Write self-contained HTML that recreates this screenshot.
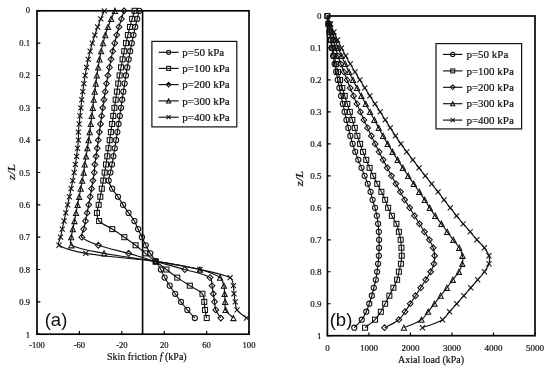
<!DOCTYPE html>
<html><head><meta charset="utf-8"><title>Skin friction and axial load</title>
<style>html,body{margin:0;padding:0;background:#fff}svg{display:block}</style></head>
<body>
<svg width="550" height="371" viewBox="0 0 550 371">
<rect width="550" height="371" fill="#fff"/>
<g font-family="'Liberation Serif', 'Times New Roman', serif" fill="#111" stroke="#111" stroke-width="0.2">
<rect x="37.00" y="10.80" width="212.00" height="323.40" fill="none" stroke="#050505" stroke-width="1.7"/>
<path d="M37.00 10.80h3.3M37.00 43.14h3.3M37.00 75.48h3.3M37.00 107.82h3.3M37.00 140.16h3.3M37.00 172.50h3.3M37.00 204.84h3.3M37.00 237.18h3.3M37.00 269.52h3.3M37.00 301.86h3.3M37.00 334.20h3.3M37.00 334.20v-3.3M79.40 334.20v-3.3M121.80 334.20v-3.3M164.20 334.20v-3.3M206.60 334.20v-3.3M249.00 334.20v-3.3" stroke="#050505" stroke-width="1.2" fill="none"/>
<path d="M142.60 10.80V334.20" stroke="#050505" stroke-width="1.6"/>
<path d="M139.26 10.80C138.92 12.15 137.86 16.18 137.19 18.88C136.53 21.57 135.88 24.27 135.26 26.97C134.64 29.66 134.04 32.36 133.46 35.05C132.88 37.75 132.32 40.44 131.77 43.14C131.23 45.83 130.70 48.53 130.19 51.22C129.68 53.92 129.18 56.61 128.70 59.31C128.21 62.00 127.74 64.70 127.28 67.39C126.82 70.09 126.37 72.78 125.93 75.48C125.49 78.17 125.06 80.87 124.64 83.56C124.22 86.26 123.80 88.95 123.39 91.65C122.98 94.34 122.57 97.04 122.17 99.73C121.76 102.43 121.36 105.12 120.96 107.82C120.56 110.51 120.16 113.21 119.76 115.90C119.36 118.60 118.96 121.30 118.55 123.99C118.14 126.69 117.74 129.38 117.32 132.07C116.91 134.77 116.49 137.47 116.06 140.16C115.63 142.86 115.20 145.55 114.76 148.25C114.31 150.94 113.86 153.64 113.40 156.33C112.93 159.03 112.46 161.72 111.97 164.41C111.47 167.11 111.00 169.81 110.45 172.50C109.90 175.20 108.38 177.97 108.66 180.59C108.95 183.36 110.70 186.14 112.15 188.67C113.80 191.53 116.13 194.00 117.98 196.75C119.76 199.39 121.33 202.18 123.07 204.84C124.86 207.57 126.71 210.25 128.58 212.93C130.49 215.64 132.73 218.16 134.41 221.01C135.91 223.55 136.87 226.41 138.12 229.09C139.38 231.80 140.67 234.48 141.94 237.18C143.21 239.87 144.39 242.62 145.76 245.26C147.18 248.01 148.69 250.72 150.31 253.35C152.01 256.11 153.94 258.72 155.72 261.44C157.48 264.11 159.37 266.72 160.91 269.52C162.34 272.11 163.21 275.01 164.62 277.60C166.14 280.40 167.97 283.03 169.71 285.69C171.50 288.42 173.35 291.10 175.22 293.77C177.13 296.49 179.07 299.20 181.05 301.86C183.09 304.59 185.10 307.35 187.31 309.94C189.69 312.74 193.58 316.68 194.83 318.03" fill="none" stroke="#111" stroke-width="1.15"/>
<g fill="none" stroke="#111" stroke-width="1.05"><circle cx="139.26" cy="10.80" r="2.60"/><circle cx="137.19" cy="18.88" r="2.60"/><circle cx="135.26" cy="26.97" r="2.60"/><circle cx="133.46" cy="35.05" r="2.60"/><circle cx="131.77" cy="43.14" r="2.60"/><circle cx="130.19" cy="51.22" r="2.60"/><circle cx="128.70" cy="59.31" r="2.60"/><circle cx="127.28" cy="67.39" r="2.60"/><circle cx="125.93" cy="75.48" r="2.60"/><circle cx="124.64" cy="83.56" r="2.60"/><circle cx="123.39" cy="91.65" r="2.60"/><circle cx="122.17" cy="99.73" r="2.60"/><circle cx="120.96" cy="107.82" r="2.60"/><circle cx="119.76" cy="115.90" r="2.60"/><circle cx="118.55" cy="123.99" r="2.60"/><circle cx="117.32" cy="132.07" r="2.60"/><circle cx="116.06" cy="140.16" r="2.60"/><circle cx="114.76" cy="148.25" r="2.60"/><circle cx="113.40" cy="156.33" r="2.60"/><circle cx="111.97" cy="164.41" r="2.60"/><circle cx="110.45" cy="172.50" r="2.60"/><circle cx="108.66" cy="180.59" r="2.60"/><circle cx="112.15" cy="188.67" r="2.60"/><circle cx="117.98" cy="196.75" r="2.60"/><circle cx="123.07" cy="204.84" r="2.60"/><circle cx="128.58" cy="212.93" r="2.60"/><circle cx="134.41" cy="221.01" r="2.60"/><circle cx="138.12" cy="229.09" r="2.60"/><circle cx="141.94" cy="237.18" r="2.60"/><circle cx="145.76" cy="245.26" r="2.60"/><circle cx="150.31" cy="253.35" r="2.60"/><circle cx="155.72" cy="261.44" r="2.60"/><circle cx="160.91" cy="269.52" r="2.60"/><circle cx="164.62" cy="277.60" r="2.60"/><circle cx="169.71" cy="285.69" r="2.60"/><circle cx="175.22" cy="293.77" r="2.60"/><circle cx="181.05" cy="301.86" r="2.60"/><circle cx="187.31" cy="309.94" r="2.60"/><circle cx="194.83" cy="318.03" r="2.60"/></g>
<path d="M134.54 10.80C134.14 12.15 132.92 16.18 132.15 18.88C131.39 21.57 130.65 24.27 129.94 26.97C129.23 29.66 128.55 32.35 127.89 35.05C127.23 37.74 126.60 40.44 125.99 43.14C125.38 45.83 124.79 48.53 124.23 51.22C123.66 53.92 123.11 56.61 122.58 59.31C122.05 62.00 121.54 64.70 121.04 67.39C120.54 70.09 120.07 72.78 119.60 75.48C119.13 78.17 118.67 80.87 118.23 83.56C117.78 86.26 117.35 88.95 116.92 91.65C116.50 94.34 116.08 97.04 115.67 99.73C115.26 102.43 114.85 105.12 114.45 107.82C114.05 110.51 113.65 113.21 113.26 115.90C112.86 118.60 112.47 121.29 112.07 123.99C111.68 126.68 111.29 129.38 110.89 132.07C110.50 134.77 110.10 137.47 109.70 140.16C109.30 142.86 108.90 145.55 108.49 148.25C108.08 150.94 107.67 153.64 107.26 156.33C106.84 159.03 106.41 161.72 105.98 164.41C105.55 167.11 105.11 169.81 104.66 172.50C104.21 175.20 103.75 177.89 103.28 180.59C102.81 183.28 102.32 185.98 101.83 188.67C101.33 191.37 100.82 194.06 100.30 196.75C99.78 199.45 99.24 202.15 98.69 204.84C98.13 207.54 96.90 210.25 96.97 212.93C97.04 215.64 97.32 219.12 99.12 221.01C102.42 224.51 107.93 226.32 112.26 229.09C116.34 231.71 120.36 234.42 124.34 237.18C128.14 239.81 131.93 242.44 135.58 245.26C138.89 247.83 141.96 250.72 145.23 253.35C148.67 256.11 152.21 258.76 155.72 261.44C159.28 264.15 162.85 266.83 166.43 269.52C170.02 272.22 173.54 275.05 177.24 277.60C181.35 280.44 185.65 283.00 189.85 285.69C194.06 288.38 199.37 290.30 202.47 293.77C204.18 295.69 203.84 299.14 204.27 301.86C204.69 304.53 204.61 307.27 205.01 309.94C205.42 312.66 206.42 316.68 206.71 318.03" fill="none" stroke="#111" stroke-width="1.15"/>
<g fill="none" stroke="#111" stroke-width="1.05"><rect x="132.04" y="8.30" width="5.00" height="5.00"/><rect x="129.65" y="16.38" width="5.00" height="5.00"/><rect x="127.44" y="24.47" width="5.00" height="5.00"/><rect x="125.39" y="32.55" width="5.00" height="5.00"/><rect x="123.49" y="40.64" width="5.00" height="5.00"/><rect x="121.73" y="48.72" width="5.00" height="5.00"/><rect x="120.08" y="56.81" width="5.00" height="5.00"/><rect x="118.54" y="64.89" width="5.00" height="5.00"/><rect x="117.10" y="72.98" width="5.00" height="5.00"/><rect x="115.73" y="81.06" width="5.00" height="5.00"/><rect x="114.42" y="89.15" width="5.00" height="5.00"/><rect x="113.17" y="97.23" width="5.00" height="5.00"/><rect x="111.95" y="105.32" width="5.00" height="5.00"/><rect x="110.76" y="113.40" width="5.00" height="5.00"/><rect x="109.57" y="121.49" width="5.00" height="5.00"/><rect x="108.39" y="129.57" width="5.00" height="5.00"/><rect x="107.20" y="137.66" width="5.00" height="5.00"/><rect x="105.99" y="145.75" width="5.00" height="5.00"/><rect x="104.76" y="153.83" width="5.00" height="5.00"/><rect x="103.48" y="161.91" width="5.00" height="5.00"/><rect x="102.16" y="170.00" width="5.00" height="5.00"/><rect x="100.78" y="178.09" width="5.00" height="5.00"/><rect x="99.33" y="186.17" width="5.00" height="5.00"/><rect x="97.80" y="194.25" width="5.00" height="5.00"/><rect x="96.19" y="202.34" width="5.00" height="5.00"/><rect x="94.47" y="210.43" width="5.00" height="5.00"/><rect x="96.62" y="218.51" width="5.00" height="5.00"/><rect x="109.76" y="226.59" width="5.00" height="5.00"/><rect x="121.84" y="234.68" width="5.00" height="5.00"/><rect x="133.08" y="242.76" width="5.00" height="5.00"/><rect x="142.73" y="250.85" width="5.00" height="5.00"/><rect x="153.22" y="258.94" width="5.00" height="5.00"/><rect x="163.93" y="267.02" width="5.00" height="5.00"/><rect x="174.74" y="275.10" width="5.00" height="5.00"/><rect x="187.35" y="283.19" width="5.00" height="5.00"/><rect x="199.97" y="291.27" width="5.00" height="5.00"/><rect x="201.77" y="299.36" width="5.00" height="5.00"/><rect x="202.51" y="307.44" width="5.00" height="5.00"/><rect x="204.21" y="315.53" width="5.00" height="5.00"/></g>
<path d="M124.04 10.80C123.60 12.15 122.25 16.18 121.40 18.88C120.56 21.57 119.76 24.27 118.98 26.97C118.20 29.66 117.46 32.35 116.74 35.05C116.03 37.74 115.35 40.44 114.69 43.14C114.03 45.83 113.40 48.52 112.79 51.22C112.18 53.91 111.60 56.61 111.04 59.31C110.48 62.00 109.94 64.70 109.42 67.39C108.90 70.09 108.41 72.78 107.92 75.48C107.44 78.17 106.98 80.87 106.52 83.56C106.07 86.26 105.64 88.95 105.21 91.65C104.79 94.34 104.38 97.04 103.97 99.73C103.57 102.43 103.18 105.12 102.79 107.82C102.40 110.51 102.02 113.21 101.65 115.90C101.27 118.60 100.90 121.29 100.53 123.99C100.16 126.68 99.80 129.38 99.43 132.07C99.06 134.77 98.70 137.47 98.32 140.16C97.95 142.86 97.58 145.55 97.20 148.25C96.82 150.94 96.44 153.64 96.05 156.33C95.66 159.03 95.16 161.71 94.86 164.41C94.57 167.10 94.58 169.82 94.27 172.50C93.96 175.21 93.43 177.89 92.99 180.59C92.55 183.28 92.10 185.98 91.64 188.67C91.18 191.37 90.71 194.06 90.23 196.75C89.75 199.45 89.25 202.15 88.74 204.84C88.22 207.54 87.70 210.23 87.16 212.93C86.61 215.62 86.06 218.32 85.48 221.01C84.90 223.71 84.31 226.40 83.70 229.09C83.09 231.79 80.29 235.51 81.81 237.18C85.18 240.90 92.59 243.27 98.37 245.26C108.18 248.66 118.55 250.52 128.58 253.35C137.67 255.91 146.65 258.82 155.72 261.44C165.38 264.21 175.13 266.65 184.76 269.52C193.23 272.04 203.08 273.50 209.99 277.60C212.16 278.89 211.45 282.97 212.01 285.69C212.55 288.36 212.85 291.08 213.28 293.77C213.70 296.47 214.13 299.17 214.55 301.86C214.97 304.56 214.86 307.45 215.82 309.94C216.94 312.84 219.97 316.68 220.80 318.03" fill="none" stroke="#111" stroke-width="1.15"/>
<g fill="none" stroke="#111" stroke-width="1.05"><path d="M124.04 7.90L126.94 10.80L124.04 13.70L121.14 10.80Z"/><path d="M121.40 15.98L124.30 18.88L121.40 21.78L118.50 18.88Z"/><path d="M118.98 24.07L121.88 26.97L118.98 29.87L116.08 26.97Z"/><path d="M116.74 32.16L119.64 35.05L116.74 37.95L113.84 35.05Z"/><path d="M114.69 40.24L117.59 43.14L114.69 46.04L111.79 43.14Z"/><path d="M112.79 48.32L115.69 51.22L112.79 54.12L109.89 51.22Z"/><path d="M111.04 56.41L113.94 59.31L111.04 62.21L108.14 59.31Z"/><path d="M109.42 64.49L112.32 67.39L109.42 70.30L106.52 67.39Z"/><path d="M107.92 72.58L110.82 75.48L107.92 78.38L105.02 75.48Z"/><path d="M106.52 80.66L109.42 83.56L106.52 86.47L103.62 83.56Z"/><path d="M105.21 88.75L108.11 91.65L105.21 94.55L102.31 91.65Z"/><path d="M103.97 96.83L106.87 99.73L103.97 102.64L101.07 99.73Z"/><path d="M102.79 104.92L105.69 107.82L102.79 110.72L99.89 107.82Z"/><path d="M101.65 113.00L104.55 115.90L101.65 118.80L98.75 115.90Z"/><path d="M100.53 121.09L103.43 123.99L100.53 126.89L97.63 123.99Z"/><path d="M99.43 129.17L102.33 132.07L99.43 134.97L96.53 132.07Z"/><path d="M98.32 137.26L101.22 140.16L98.32 143.06L95.42 140.16Z"/><path d="M97.20 145.34L100.10 148.25L97.20 151.15L94.30 148.25Z"/><path d="M96.05 153.43L98.95 156.33L96.05 159.23L93.15 156.33Z"/><path d="M94.86 161.51L97.76 164.41L94.86 167.31L91.96 164.41Z"/><path d="M94.27 169.60L97.17 172.50L94.27 175.40L91.37 172.50Z"/><path d="M92.99 177.69L95.89 180.59L92.99 183.49L90.09 180.59Z"/><path d="M91.64 185.77L94.54 188.67L91.64 191.57L88.74 188.67Z"/><path d="M90.23 193.85L93.13 196.75L90.23 199.66L87.33 196.75Z"/><path d="M88.74 201.94L91.64 204.84L88.74 207.74L85.84 204.84Z"/><path d="M87.16 210.03L90.06 212.93L87.16 215.83L84.26 212.93Z"/><path d="M85.48 218.11L88.38 221.01L85.48 223.91L82.58 221.01Z"/><path d="M83.70 226.19L86.60 229.09L83.70 232.00L80.80 229.09Z"/><path d="M81.81 234.28L84.71 237.18L81.81 240.08L78.91 237.18Z"/><path d="M98.37 242.36L101.27 245.26L98.37 248.16L95.47 245.26Z"/><path d="M128.58 250.45L131.48 253.35L128.58 256.25L125.68 253.35Z"/><path d="M155.72 258.54L158.62 261.44L155.72 264.33L152.82 261.44Z"/><path d="M184.76 266.62L187.66 269.52L184.76 272.42L181.86 269.52Z"/><path d="M209.99 274.70L212.89 277.60L209.99 280.50L207.09 277.60Z"/><path d="M212.01 282.79L214.91 285.69L212.01 288.59L209.11 285.69Z"/><path d="M213.28 290.88L216.18 293.77L213.28 296.67L210.38 293.77Z"/><path d="M214.55 298.96L217.45 301.86L214.55 304.76L211.65 301.86Z"/><path d="M215.82 307.05L218.72 309.94L215.82 312.84L212.92 309.94Z"/><path d="M220.80 315.13L223.70 318.03L220.80 320.93L217.90 318.03Z"/></g>
<path d="M114.95 10.80C114.32 12.15 112.37 16.16 111.20 18.88C110.06 21.55 109.01 24.25 108.02 26.97C107.04 29.64 106.15 32.34 105.32 35.05C104.50 37.73 103.75 40.43 103.05 43.14C102.36 45.82 101.74 48.52 101.15 51.22C100.57 53.91 100.04 56.61 99.54 59.31C99.05 62.00 98.60 64.70 98.16 67.39C97.73 70.09 97.33 72.78 96.94 75.48C96.55 78.17 96.18 80.87 95.82 83.56C95.46 86.26 95.11 88.95 94.77 91.65C94.42 94.34 94.09 97.04 93.76 99.73C93.42 102.43 93.10 105.13 92.77 107.82C92.44 110.52 92.12 113.21 91.78 115.90C91.45 118.60 91.12 121.30 90.78 123.99C90.43 126.69 90.08 129.38 89.72 132.07C89.36 134.77 88.99 137.47 88.60 140.16C88.21 142.86 87.81 145.55 87.39 148.25C86.97 150.94 86.54 153.64 86.10 156.33C85.66 159.03 85.13 161.71 84.74 164.41C84.35 167.10 84.15 169.82 83.74 172.50C83.32 175.21 82.76 177.89 82.26 180.59C81.76 183.28 81.26 185.98 80.74 188.67C80.23 191.37 79.71 194.06 79.19 196.75C78.67 199.45 78.14 202.15 77.61 204.84C77.09 207.54 76.55 210.23 76.02 212.93C75.49 215.62 74.96 218.31 74.43 221.01C73.90 223.70 73.37 226.40 72.84 229.09C72.31 231.79 71.52 234.46 71.26 237.18C71.02 239.85 69.23 244.22 71.34 245.26C80.17 249.61 93.06 251.24 104.10 253.35C121.19 256.63 138.55 258.54 155.72 261.44C170.49 263.93 185.46 265.89 199.92 269.52C206.91 271.28 214.41 273.79 220.06 277.60C222.39 279.18 223.08 282.87 223.88 285.69C224.60 288.26 224.41 291.08 224.62 293.77C224.83 296.47 224.99 299.16 225.15 301.86C225.31 304.55 224.42 307.69 225.57 309.94C227.18 313.08 232.11 316.68 233.42 318.03" fill="none" stroke="#111" stroke-width="1.15"/>
<g fill="none" stroke="#111" stroke-width="1.05"><path d="M114.95 8.20L117.55 13.40L112.35 13.40Z"/><path d="M111.20 16.28L113.80 21.48L108.60 21.48Z"/><path d="M108.02 24.37L110.62 29.57L105.42 29.57Z"/><path d="M105.32 32.45L107.92 37.66L102.72 37.66Z"/><path d="M103.05 40.54L105.65 45.74L100.45 45.74Z"/><path d="M101.15 48.62L103.75 53.82L98.55 53.82Z"/><path d="M99.54 56.71L102.14 61.91L96.94 61.91Z"/><path d="M98.16 64.80L100.76 69.99L95.56 69.99Z"/><path d="M96.94 72.88L99.54 78.08L94.34 78.08Z"/><path d="M95.82 80.97L98.42 86.16L93.22 86.16Z"/><path d="M94.77 89.05L97.37 94.25L92.17 94.25Z"/><path d="M93.76 97.14L96.36 102.33L91.16 102.33Z"/><path d="M92.77 105.22L95.37 110.42L90.17 110.42Z"/><path d="M91.78 113.30L94.38 118.50L89.18 118.50Z"/><path d="M90.78 121.39L93.38 126.59L88.18 126.59Z"/><path d="M89.72 129.47L92.32 134.67L87.12 134.67Z"/><path d="M88.60 137.56L91.20 142.76L86.00 142.76Z"/><path d="M87.39 145.65L89.99 150.84L84.79 150.84Z"/><path d="M86.10 153.73L88.70 158.93L83.50 158.93Z"/><path d="M84.74 161.81L87.34 167.01L82.14 167.01Z"/><path d="M83.74 169.90L86.34 175.10L81.14 175.10Z"/><path d="M82.26 177.99L84.86 183.19L79.66 183.19Z"/><path d="M80.74 186.07L83.34 191.27L78.14 191.27Z"/><path d="M79.19 194.16L81.79 199.35L76.59 199.35Z"/><path d="M77.61 202.24L80.21 207.44L75.01 207.44Z"/><path d="M76.02 210.33L78.62 215.53L73.42 215.53Z"/><path d="M74.43 218.41L77.03 223.61L71.83 223.61Z"/><path d="M72.84 226.50L75.44 231.69L70.24 231.69Z"/><path d="M71.26 234.58L73.86 239.78L68.66 239.78Z"/><path d="M71.34 242.66L73.94 247.86L68.74 247.86Z"/><path d="M104.10 250.75L106.70 255.95L101.50 255.95Z"/><path d="M155.72 258.83L158.32 264.04L153.12 264.04Z"/><path d="M199.92 266.92L202.52 272.12L197.32 272.12Z"/><path d="M220.06 275.00L222.66 280.20L217.46 280.20Z"/><path d="M223.88 283.09L226.48 288.29L221.28 288.29Z"/><path d="M224.62 291.17L227.22 296.38L222.02 296.38Z"/><path d="M225.15 299.26L227.75 304.46L222.55 304.46Z"/><path d="M225.57 307.34L228.17 312.55L222.97 312.55Z"/><path d="M233.42 315.43L236.02 320.63L230.82 320.63Z"/></g>
<path d="M104.31 10.80C103.72 12.15 101.92 16.17 100.80 18.88C99.69 21.56 98.63 24.26 97.63 26.97C96.64 29.65 95.69 32.34 94.80 35.05C93.93 37.73 93.10 40.43 92.32 43.14C91.55 45.82 90.83 48.52 90.15 51.22C89.47 53.91 88.84 56.61 88.25 59.31C87.65 62.00 87.10 64.69 86.58 67.39C86.07 70.08 85.59 72.78 85.13 75.48C84.68 78.17 84.26 80.87 83.86 83.56C83.47 86.26 83.10 88.95 82.74 91.65C82.39 94.34 82.06 97.04 81.74 99.73C81.43 102.43 81.13 105.12 80.83 107.82C80.54 110.51 80.26 113.21 79.98 115.90C79.71 118.60 79.44 121.30 79.16 123.99C78.89 126.69 78.46 129.37 78.34 132.07C78.22 134.76 78.58 137.47 78.45 140.16C78.31 142.86 77.85 145.55 77.53 148.25C77.21 150.94 76.88 153.64 76.53 156.33C76.18 159.03 75.81 161.72 75.41 164.41C75.01 167.11 74.58 169.81 74.13 172.50C73.68 175.20 73.19 177.89 72.69 180.59C72.18 183.28 71.64 185.98 71.10 188.67C70.55 191.37 69.98 194.06 69.40 196.75C68.82 199.45 68.22 202.15 67.63 204.84C67.03 207.54 66.42 210.23 65.82 212.93C65.22 215.62 64.61 218.31 64.02 221.01C63.42 223.70 62.83 226.40 62.25 229.09C61.67 231.79 61.10 234.48 60.55 237.18C60.01 239.87 57.06 244.04 58.97 245.26C65.46 249.43 76.59 251.82 85.76 253.35C108.84 257.21 132.49 258.14 155.72 261.44C170.54 263.53 185.30 266.34 199.92 269.52C210.10 271.73 221.40 273.39 230.13 277.60C232.57 278.78 232.76 282.89 233.42 285.69C234.03 288.28 233.65 291.09 233.95 293.77C234.25 296.48 234.71 299.18 235.22 301.86C235.74 304.57 235.52 307.80 237.02 309.94C239.30 313.19 244.97 316.68 246.56 318.03" fill="none" stroke="#111" stroke-width="1.15"/>
<g fill="none" stroke="#111" stroke-width="1.05"><path d="M101.76 8.25L106.86 13.35M101.76 13.35L106.86 8.25"/><path d="M98.25 16.33L103.35 21.43M98.25 21.43L103.35 16.33"/><path d="M95.08 24.42L100.18 29.52M95.08 29.52L100.18 24.42"/><path d="M92.25 32.51L97.35 37.60M92.25 37.60L97.35 32.51"/><path d="M89.77 40.59L94.87 45.69M89.77 45.69L94.87 40.59"/><path d="M87.60 48.67L92.70 53.77M87.60 53.77L92.70 48.67"/><path d="M85.70 56.76L90.80 61.86M85.70 61.86L90.80 56.76"/><path d="M84.03 64.84L89.13 69.94M84.03 69.94L89.13 64.84"/><path d="M82.58 72.93L87.68 78.03M82.58 78.03L87.68 72.93"/><path d="M81.31 81.02L86.41 86.11M81.31 86.11L86.41 81.02"/><path d="M80.19 89.10L85.29 94.20M80.19 94.20L85.29 89.10"/><path d="M79.19 97.19L84.29 102.28M79.19 102.28L84.29 97.19"/><path d="M78.28 105.27L83.38 110.37M78.28 110.37L83.38 105.27"/><path d="M77.43 113.35L82.53 118.45M77.43 118.45L82.53 113.35"/><path d="M76.61 121.44L81.71 126.54M76.61 126.54L81.71 121.44"/><path d="M75.79 129.52L80.89 134.62M75.79 134.62L80.89 129.52"/><path d="M75.90 137.61L81.00 142.71M75.90 142.71L81.00 137.61"/><path d="M74.98 145.69L80.08 150.80M74.98 150.80L80.08 145.69"/><path d="M73.98 153.78L79.08 158.88M73.98 158.88L79.08 153.78"/><path d="M72.86 161.86L77.96 166.97M72.86 166.97L77.96 161.86"/><path d="M71.58 169.95L76.68 175.05M71.58 175.05L76.68 169.95"/><path d="M70.14 178.03L75.24 183.14M70.14 183.14L75.24 178.03"/><path d="M68.55 186.12L73.65 191.22M68.55 191.22L73.65 186.12"/><path d="M66.85 194.20L71.95 199.31M66.85 199.31L71.95 194.20"/><path d="M65.08 202.29L70.18 207.39M65.08 207.39L70.18 202.29"/><path d="M63.27 210.38L68.37 215.48M63.27 215.48L68.37 210.38"/><path d="M61.47 218.46L66.57 223.56M61.47 223.56L66.57 218.46"/><path d="M59.70 226.54L64.80 231.65M59.70 231.65L64.80 226.54"/><path d="M58.00 234.63L63.10 239.73M58.00 239.73L63.10 234.63"/><path d="M56.42 242.71L61.52 247.81M56.42 247.81L61.52 242.71"/><path d="M83.21 250.80L88.31 255.90M83.21 255.90L88.31 250.80"/><path d="M153.17 258.88L158.27 263.99M153.17 263.99L158.27 258.88"/><path d="M197.37 266.97L202.47 272.07M197.37 272.07L202.47 266.97"/><path d="M227.58 275.05L232.68 280.15M227.58 280.15L232.68 275.05"/><path d="M230.87 283.14L235.97 288.24M230.87 288.24L235.97 283.14"/><path d="M231.40 291.22L236.50 296.32M231.40 296.32L236.50 291.22"/><path d="M232.67 299.31L237.77 304.41M232.67 304.41L237.77 299.31"/><path d="M234.47 307.39L239.57 312.50M234.47 312.50L239.57 307.39"/><path d="M244.01 315.48L249.11 320.58M244.01 320.58L249.11 315.48"/></g>
<g font-size="8.6" text-anchor="end">
<text x="30.0" y="13.2">0</text>
<text x="30.0" y="45.7">0.1</text>
<text x="30.0" y="78.1">0.2</text>
<text x="30.0" y="110.6">0.3</text>
<text x="30.0" y="143.0">0.4</text>
<text x="30.0" y="175.5">0.5</text>
<text x="30.0" y="207.9">0.6</text>
<text x="30.0" y="240.4">0.7</text>
<text x="30.0" y="272.8">0.8</text>
<text x="30.0" y="305.3">0.9</text>
<text x="30.0" y="337.7">1</text>
</g>
<g font-size="8.6" text-anchor="middle">
<text x="37.0" y="348.2">-100</text>
<text x="79.4" y="348.2">-60</text>
<text x="121.8" y="348.2">-20</text>
<text x="164.2" y="348.2">20</text>
<text x="206.6" y="348.2">60</text>
<text x="249.0" y="348.2">100</text>
</g>
<rect x="327.40" y="16.00" width="207.60" height="319.70" fill="none" stroke="#050505" stroke-width="1.7"/>
<path d="M327.40 16.00h3.3M327.40 47.97h3.3M327.40 79.94h3.3M327.40 111.91h3.3M327.40 143.88h3.3M327.40 175.85h3.3M327.40 207.82h3.3M327.40 239.79h3.3M327.40 271.76h3.3M327.40 303.73h3.3M327.40 335.70h3.3M327.40 335.70v-3.3M368.92 335.70v-3.3M410.44 335.70v-3.3M451.96 335.70v-3.3M493.48 335.70v-3.3M535.00 335.70v-3.3" stroke="#050505" stroke-width="1.2" fill="none"/>
<path d="M327.40 16.00C327.56 17.33 328.01 21.33 328.34 23.99C328.67 26.66 329.02 29.32 329.39 31.98C329.75 34.65 330.14 37.32 330.53 39.98C330.93 42.64 331.33 45.31 331.76 47.97C332.19 50.64 332.64 53.30 333.11 55.96C333.59 58.63 334.09 61.29 334.60 63.95C335.11 66.62 335.65 69.28 336.18 71.95C336.71 74.61 337.24 77.28 337.78 79.94C338.32 82.60 338.86 85.27 339.41 87.93C339.96 90.60 340.52 93.26 341.09 95.92C341.66 98.59 342.23 101.26 342.82 103.92C343.42 106.58 344.02 109.25 344.63 111.91C345.24 114.58 345.85 117.24 346.46 119.90C347.08 122.57 347.69 125.24 348.34 127.89C348.99 130.56 349.65 133.23 350.35 135.89C351.07 138.56 351.79 141.24 352.60 143.88C353.43 146.56 354.33 149.23 355.27 151.87C356.23 154.56 357.29 157.21 358.33 159.87C359.37 162.54 360.48 165.19 361.53 167.86C362.58 170.52 363.60 173.19 364.64 175.85C365.68 178.52 366.78 181.16 367.78 183.84C368.76 186.49 369.77 189.13 370.58 191.84C371.37 194.46 371.83 197.18 372.57 199.83C373.33 202.51 374.34 205.13 375.06 207.82C375.77 210.45 376.34 213.13 376.85 215.81C377.35 218.46 377.76 221.13 378.10 223.81C378.43 226.46 378.68 229.13 378.84 231.80C379.01 234.46 379.05 237.13 379.09 239.79C379.13 242.45 379.13 245.12 379.09 247.78C379.06 250.45 379.05 253.12 378.88 255.77C378.72 258.45 378.39 261.11 378.10 263.77C377.80 266.44 377.48 269.10 377.10 271.76C376.72 274.43 376.35 277.11 375.81 279.75C375.26 282.44 374.48 285.08 373.82 287.75C373.16 290.41 372.57 293.10 371.83 295.74C371.07 298.43 370.21 301.09 369.29 303.73C368.37 306.42 367.51 309.16 366.30 311.72C365.01 314.48 363.61 317.29 361.78 319.71C359.59 322.62 355.52 326.38 354.26 327.71" fill="none" stroke="#111" stroke-width="1.15"/>
<g fill="none" stroke="#111" stroke-width="1.05"><circle cx="327.40" cy="16.00" r="2.60"/><circle cx="328.34" cy="23.99" r="2.60"/><circle cx="329.39" cy="31.98" r="2.60"/><circle cx="330.53" cy="39.98" r="2.60"/><circle cx="331.76" cy="47.97" r="2.60"/><circle cx="333.11" cy="55.96" r="2.60"/><circle cx="334.60" cy="63.95" r="2.60"/><circle cx="336.18" cy="71.95" r="2.60"/><circle cx="337.78" cy="79.94" r="2.60"/><circle cx="339.41" cy="87.93" r="2.60"/><circle cx="341.09" cy="95.92" r="2.60"/><circle cx="342.82" cy="103.92" r="2.60"/><circle cx="344.63" cy="111.91" r="2.60"/><circle cx="346.46" cy="119.90" r="2.60"/><circle cx="348.34" cy="127.89" r="2.60"/><circle cx="350.35" cy="135.89" r="2.60"/><circle cx="352.60" cy="143.88" r="2.60"/><circle cx="355.27" cy="151.87" r="2.60"/><circle cx="358.33" cy="159.87" r="2.60"/><circle cx="361.53" cy="167.86" r="2.60"/><circle cx="364.64" cy="175.85" r="2.60"/><circle cx="367.78" cy="183.84" r="2.60"/><circle cx="370.58" cy="191.84" r="2.60"/><circle cx="372.57" cy="199.83" r="2.60"/><circle cx="375.06" cy="207.82" r="2.60"/><circle cx="376.85" cy="215.81" r="2.60"/><circle cx="378.10" cy="223.81" r="2.60"/><circle cx="378.84" cy="231.80" r="2.60"/><circle cx="379.09" cy="239.79" r="2.60"/><circle cx="379.09" cy="247.78" r="2.60"/><circle cx="378.88" cy="255.77" r="2.60"/><circle cx="378.10" cy="263.77" r="2.60"/><circle cx="377.10" cy="271.76" r="2.60"/><circle cx="375.81" cy="279.75" r="2.60"/><circle cx="373.82" cy="287.75" r="2.60"/><circle cx="371.83" cy="295.74" r="2.60"/><circle cx="369.29" cy="303.73" r="2.60"/><circle cx="366.30" cy="311.72" r="2.60"/><circle cx="361.78" cy="319.71" r="2.60"/><circle cx="354.26" cy="327.71" r="2.60"/></g>
<path d="M327.40 16.00C327.58 17.33 328.10 21.33 328.49 23.99C328.88 26.66 329.30 29.32 329.74 31.98C330.17 34.65 330.63 37.32 331.11 39.98C331.58 42.64 332.07 45.31 332.59 47.97C333.11 50.64 333.65 53.30 334.22 55.96C334.80 58.63 335.41 61.30 336.03 63.95C336.66 66.62 337.32 69.29 337.99 71.95C338.67 74.62 339.35 77.28 340.06 79.94C340.78 82.61 341.53 85.28 342.31 87.93C343.09 90.61 343.92 93.27 344.75 95.92C345.58 98.59 346.44 101.25 347.28 103.92C348.13 106.58 348.98 109.24 349.82 111.91C350.66 114.57 351.47 117.24 352.30 119.90C353.13 122.57 353.94 125.24 354.78 127.89C355.63 130.56 356.47 133.23 357.36 135.89C358.25 138.56 359.17 141.23 360.12 143.88C361.08 146.56 362.07 149.22 363.08 151.87C364.11 154.55 365.15 157.21 366.23 159.87C367.32 162.54 368.44 165.21 369.59 167.86C370.74 170.53 371.90 173.22 373.16 175.85C374.44 178.55 375.85 181.19 377.21 183.84C378.59 186.51 380.05 189.14 381.38 191.84C382.68 194.47 383.97 197.12 385.11 199.83C386.22 202.45 387.03 205.20 388.14 207.82C389.29 210.53 390.53 213.20 391.88 215.81C393.29 218.53 395.18 221.02 396.41 223.81C397.52 226.35 398.18 229.10 398.90 231.80C399.60 234.43 400.22 237.10 400.64 239.79C401.06 242.43 401.26 245.11 401.43 247.78C401.60 250.44 401.76 253.12 401.68 255.77C401.60 258.44 401.39 261.14 400.93 263.77C400.46 266.47 399.54 269.09 398.90 271.76C398.26 274.41 398.00 277.19 397.11 279.75C396.16 282.52 394.66 285.10 393.38 287.75C392.07 290.43 390.72 293.09 389.35 295.74C387.96 298.42 386.53 301.07 385.11 303.73C383.69 306.40 382.44 309.17 380.84 311.72C379.09 314.50 377.35 317.40 375.06 319.71C372.09 322.73 366.73 326.38 365.06 327.71" fill="none" stroke="#111" stroke-width="1.15"/>
<g fill="none" stroke="#111" stroke-width="1.05"><rect x="324.90" y="13.50" width="5.00" height="5.00"/><rect x="325.99" y="21.49" width="5.00" height="5.00"/><rect x="327.24" y="29.48" width="5.00" height="5.00"/><rect x="328.61" y="37.48" width="5.00" height="5.00"/><rect x="330.09" y="45.47" width="5.00" height="5.00"/><rect x="331.72" y="53.46" width="5.00" height="5.00"/><rect x="333.53" y="61.45" width="5.00" height="5.00"/><rect x="335.49" y="69.45" width="5.00" height="5.00"/><rect x="337.56" y="77.44" width="5.00" height="5.00"/><rect x="339.81" y="85.43" width="5.00" height="5.00"/><rect x="342.25" y="93.42" width="5.00" height="5.00"/><rect x="344.78" y="101.42" width="5.00" height="5.00"/><rect x="347.32" y="109.41" width="5.00" height="5.00"/><rect x="349.80" y="117.40" width="5.00" height="5.00"/><rect x="352.28" y="125.39" width="5.00" height="5.00"/><rect x="354.86" y="133.39" width="5.00" height="5.00"/><rect x="357.62" y="141.38" width="5.00" height="5.00"/><rect x="360.58" y="149.37" width="5.00" height="5.00"/><rect x="363.73" y="157.37" width="5.00" height="5.00"/><rect x="367.09" y="165.36" width="5.00" height="5.00"/><rect x="370.66" y="173.35" width="5.00" height="5.00"/><rect x="374.71" y="181.34" width="5.00" height="5.00"/><rect x="378.88" y="189.34" width="5.00" height="5.00"/><rect x="382.61" y="197.33" width="5.00" height="5.00"/><rect x="385.64" y="205.32" width="5.00" height="5.00"/><rect x="389.38" y="213.31" width="5.00" height="5.00"/><rect x="393.91" y="221.31" width="5.00" height="5.00"/><rect x="396.40" y="229.30" width="5.00" height="5.00"/><rect x="398.14" y="237.29" width="5.00" height="5.00"/><rect x="398.93" y="245.28" width="5.00" height="5.00"/><rect x="399.18" y="253.27" width="5.00" height="5.00"/><rect x="398.43" y="261.27" width="5.00" height="5.00"/><rect x="396.40" y="269.26" width="5.00" height="5.00"/><rect x="394.61" y="277.25" width="5.00" height="5.00"/><rect x="390.88" y="285.25" width="5.00" height="5.00"/><rect x="386.85" y="293.24" width="5.00" height="5.00"/><rect x="382.61" y="301.23" width="5.00" height="5.00"/><rect x="378.34" y="309.22" width="5.00" height="5.00"/><rect x="372.56" y="317.21" width="5.00" height="5.00"/><rect x="362.56" y="325.21" width="5.00" height="5.00"/></g>
<path d="M327.40 16.00C327.69 17.33 328.51 21.34 329.12 23.99C329.73 26.66 330.38 29.33 331.06 31.98C331.74 34.66 332.46 37.32 333.19 39.98C333.94 42.65 334.69 45.32 335.50 47.97C336.31 50.65 337.16 53.31 338.05 55.96C338.95 58.64 339.91 61.30 340.89 63.95C341.87 66.63 342.89 69.29 343.90 71.95C344.92 74.62 345.95 77.28 347.00 79.94C348.04 82.61 349.10 85.28 350.18 87.93C351.26 90.60 352.37 93.27 353.50 95.92C354.62 98.60 355.77 101.26 356.92 103.92C358.07 106.59 359.24 109.25 360.41 111.91C361.58 114.58 362.76 117.24 363.96 119.90C365.16 122.57 366.37 125.24 367.60 127.89C368.83 130.56 370.07 133.23 371.33 135.89C372.59 138.56 373.86 141.22 375.15 143.88C376.44 146.55 377.75 149.22 379.07 151.87C380.40 154.54 381.75 157.21 383.11 159.87C384.47 162.54 385.85 165.20 387.24 167.86C388.63 170.53 390.03 173.20 391.47 175.85C392.91 178.53 394.40 181.18 395.88 183.84C397.37 186.51 398.88 189.16 400.35 191.84C401.81 194.49 403.14 197.21 404.67 199.83C406.26 202.54 408.05 205.14 409.69 207.82C411.31 210.47 412.85 213.16 414.47 215.81C416.10 218.49 417.79 221.14 419.45 223.81C421.10 226.47 422.74 229.14 424.39 231.80C426.05 234.46 427.87 237.04 429.37 239.79C430.79 242.37 432.24 245.01 433.15 247.78C433.99 250.34 434.52 253.09 434.65 255.77C434.77 258.42 434.54 261.20 433.90 263.77C433.21 266.53 431.96 269.21 430.66 271.76C429.25 274.54 427.41 277.10 425.76 279.75C424.10 282.43 422.44 285.10 420.74 287.75C419.02 290.42 417.25 293.08 415.51 295.74C413.75 298.40 411.98 301.06 410.23 303.73C408.49 306.39 406.88 309.14 405.04 311.72C403.09 314.46 401.46 317.68 398.86 319.71C394.64 323.01 386.95 326.38 384.57 327.71" fill="none" stroke="#111" stroke-width="1.15"/>
<g fill="none" stroke="#111" stroke-width="1.05"><path d="M329.12 21.09L332.02 23.99L329.12 26.89L326.22 23.99Z"/><path d="M331.06 29.09L333.96 31.98L331.06 34.88L328.16 31.98Z"/><path d="M333.19 37.08L336.09 39.98L333.19 42.88L330.29 39.98Z"/><path d="M335.50 45.07L338.40 47.97L335.50 50.87L332.60 47.97Z"/><path d="M338.05 53.06L340.95 55.96L338.05 58.86L335.15 55.96Z"/><path d="M340.89 61.05L343.79 63.95L340.89 66.86L337.99 63.95Z"/><path d="M343.90 69.05L346.80 71.95L343.90 74.85L341.00 71.95Z"/><path d="M347.00 77.04L349.90 79.94L347.00 82.84L344.10 79.94Z"/><path d="M350.18 85.03L353.08 87.93L350.18 90.83L347.28 87.93Z"/><path d="M353.50 93.02L356.40 95.92L353.50 98.83L350.60 95.92Z"/><path d="M356.92 101.02L359.82 103.92L356.92 106.82L354.02 103.92Z"/><path d="M360.41 109.01L363.31 111.91L360.41 114.81L357.51 111.91Z"/><path d="M363.96 117.00L366.86 119.90L363.96 122.80L361.06 119.90Z"/><path d="M367.60 124.99L370.50 127.89L367.60 130.79L364.70 127.89Z"/><path d="M371.33 132.99L374.23 135.89L371.33 138.79L368.43 135.89Z"/><path d="M375.15 140.98L378.05 143.88L375.15 146.78L372.25 143.88Z"/><path d="M379.07 148.97L381.97 151.87L379.07 154.77L376.17 151.87Z"/><path d="M383.11 156.97L386.01 159.87L383.11 162.77L380.21 159.87Z"/><path d="M387.24 164.96L390.14 167.86L387.24 170.76L384.34 167.86Z"/><path d="M391.47 172.95L394.37 175.85L391.47 178.75L388.57 175.85Z"/><path d="M395.88 180.94L398.78 183.84L395.88 186.74L392.98 183.84Z"/><path d="M400.35 188.94L403.25 191.84L400.35 194.74L397.45 191.84Z"/><path d="M404.67 196.93L407.57 199.83L404.67 202.73L401.77 199.83Z"/><path d="M409.69 204.92L412.59 207.82L409.69 210.72L406.79 207.82Z"/><path d="M414.47 212.91L417.37 215.81L414.47 218.71L411.57 215.81Z"/><path d="M419.45 220.91L422.35 223.81L419.45 226.71L416.55 223.81Z"/><path d="M424.39 228.90L427.29 231.80L424.39 234.70L421.49 231.80Z"/><path d="M429.37 236.89L432.27 239.79L429.37 242.69L426.47 239.79Z"/><path d="M433.15 244.88L436.05 247.78L433.15 250.68L430.25 247.78Z"/><path d="M434.65 252.87L437.55 255.77L434.65 258.67L431.75 255.77Z"/><path d="M433.90 260.87L436.80 263.77L433.90 266.67L431.00 263.77Z"/><path d="M430.66 268.86L433.56 271.76L430.66 274.66L427.76 271.76Z"/><path d="M425.76 276.85L428.66 279.75L425.76 282.65L422.86 279.75Z"/><path d="M420.74 284.85L423.64 287.75L420.74 290.64L417.84 287.75Z"/><path d="M415.51 292.84L418.41 295.74L415.51 298.64L412.61 295.74Z"/><path d="M410.23 300.83L413.13 303.73L410.23 306.63L407.33 303.73Z"/><path d="M405.04 308.82L407.94 311.72L405.04 314.62L402.14 311.72Z"/><path d="M398.86 316.81L401.76 319.71L398.86 322.61L395.96 319.71Z"/><path d="M384.57 324.81L387.47 327.71L384.57 330.61L381.67 327.71Z"/></g>
<path d="M327.40 16.00C327.79 17.33 328.92 21.34 329.74 23.99C330.57 26.67 331.44 29.33 332.34 31.98C333.25 34.66 334.19 37.32 335.17 39.98C336.15 42.65 337.14 45.32 338.20 47.97C339.26 50.65 340.36 53.32 341.52 55.96C342.69 58.65 343.92 61.30 345.16 63.95C346.42 66.63 347.72 69.29 349.02 71.95C350.33 74.62 351.64 77.28 352.98 79.94C354.32 82.61 355.68 85.28 357.07 87.93C358.47 90.61 359.91 93.27 361.34 95.92C362.79 98.60 364.26 101.25 365.71 103.92C367.17 106.58 368.63 109.24 370.08 111.91C371.53 114.57 372.95 117.24 374.38 119.90C375.82 122.57 377.24 125.24 378.68 127.89C380.14 130.57 381.59 133.24 383.08 135.89C384.59 138.57 386.12 141.24 387.69 143.88C389.28 146.56 390.91 149.22 392.56 151.87C394.23 154.55 395.94 157.21 397.65 159.87C399.38 162.54 401.14 165.20 402.90 167.86C404.67 170.53 406.44 173.20 408.24 175.85C410.06 178.53 411.93 181.18 413.78 183.84C415.64 186.51 417.53 189.15 419.37 191.84C421.18 194.48 422.98 197.14 424.72 199.83C426.44 202.47 428.01 205.19 429.75 207.82C431.53 210.52 433.36 213.20 435.27 215.81C437.26 218.53 439.44 221.10 441.46 223.81C443.41 226.43 445.23 229.17 447.19 231.80C449.19 234.49 451.31 237.11 453.33 239.79C455.32 242.43 457.59 244.93 459.23 247.78C460.65 250.26 461.98 253.01 462.51 255.77C462.99 258.34 462.83 261.21 462.26 263.77C461.64 266.54 460.39 269.30 458.94 271.76C457.24 274.63 454.81 277.07 452.79 279.75C450.80 282.40 448.89 285.11 446.89 287.75C444.85 290.44 442.73 293.07 440.67 295.74C438.61 298.39 436.60 301.09 434.52 303.73C432.42 306.41 430.28 309.08 428.13 311.72C425.94 314.41 424.31 317.85 421.48 319.71C416.23 323.18 406.81 326.38 403.88 327.71" fill="none" stroke="#111" stroke-width="1.15"/>
<g fill="none" stroke="#111" stroke-width="1.05"><path d="M329.74 21.39L332.34 26.59L327.14 26.59Z"/><path d="M332.34 29.38L334.94 34.59L329.74 34.59Z"/><path d="M335.17 37.38L337.77 42.58L332.57 42.58Z"/><path d="M338.20 45.37L340.80 50.57L335.60 50.57Z"/><path d="M341.52 53.36L344.12 58.56L338.92 58.56Z"/><path d="M345.16 61.35L347.76 66.55L342.56 66.55Z"/><path d="M349.02 69.35L351.62 74.55L346.42 74.55Z"/><path d="M352.98 77.34L355.58 82.54L350.38 82.54Z"/><path d="M357.07 85.33L359.67 90.53L354.47 90.53Z"/><path d="M361.34 93.33L363.94 98.52L358.74 98.52Z"/><path d="M365.71 101.32L368.31 106.52L363.11 106.52Z"/><path d="M370.08 109.31L372.68 114.51L367.48 114.51Z"/><path d="M374.38 117.30L376.98 122.50L371.78 122.50Z"/><path d="M378.68 125.30L381.28 130.50L376.08 130.50Z"/><path d="M383.08 133.29L385.68 138.49L380.48 138.49Z"/><path d="M387.69 141.28L390.29 146.48L385.09 146.48Z"/><path d="M392.56 149.27L395.16 154.47L389.96 154.47Z"/><path d="M397.65 157.27L400.25 162.47L395.05 162.47Z"/><path d="M402.90 165.26L405.50 170.46L400.30 170.46Z"/><path d="M408.24 173.25L410.84 178.45L405.64 178.45Z"/><path d="M413.78 181.24L416.38 186.44L411.18 186.44Z"/><path d="M419.37 189.24L421.97 194.44L416.77 194.44Z"/><path d="M424.72 197.23L427.32 202.43L422.12 202.43Z"/><path d="M429.75 205.22L432.35 210.42L427.15 210.42Z"/><path d="M435.27 213.21L437.87 218.41L432.67 218.41Z"/><path d="M441.46 221.21L444.06 226.41L438.86 226.41Z"/><path d="M447.19 229.20L449.79 234.40L444.59 234.40Z"/><path d="M453.33 237.19L455.93 242.39L450.73 242.39Z"/><path d="M459.23 245.18L461.83 250.38L456.63 250.38Z"/><path d="M462.51 253.17L465.11 258.38L459.91 258.38Z"/><path d="M462.26 261.17L464.86 266.37L459.66 266.37Z"/><path d="M458.94 269.16L461.54 274.36L456.34 274.36Z"/><path d="M452.79 277.15L455.39 282.35L450.19 282.35Z"/><path d="M446.89 285.14L449.49 290.35L444.29 290.35Z"/><path d="M440.67 293.14L443.27 298.34L438.07 298.34Z"/><path d="M434.52 301.13L437.12 306.33L431.92 306.33Z"/><path d="M428.13 309.12L430.73 314.32L425.53 314.32Z"/><path d="M421.48 317.11L424.08 322.31L418.88 322.31Z"/><path d="M403.88 325.11L406.48 330.31L401.28 330.31Z"/></g>
<path d="M327.40 16.00C327.92 17.33 329.46 21.34 330.55 23.99C331.65 26.67 332.79 29.34 333.96 31.98C335.15 34.66 336.38 37.33 337.63 39.98C338.90 42.66 340.18 45.33 341.52 47.97C342.88 50.66 344.28 53.32 345.73 55.96C347.20 58.65 348.74 61.31 350.28 63.95C351.84 66.63 353.45 69.29 355.04 71.95C356.64 74.62 358.25 77.28 359.87 79.94C361.50 82.61 363.13 85.28 364.78 87.93C366.45 90.61 368.15 93.27 369.84 95.92C371.55 98.60 373.27 101.25 374.98 103.92C376.70 106.58 378.42 109.24 380.13 111.91C381.83 114.57 383.52 117.24 385.21 119.90C386.90 122.57 388.57 125.24 390.27 127.89C391.98 130.57 393.70 133.24 395.45 135.89C397.24 138.57 399.04 141.24 400.89 143.88C402.78 146.57 404.72 149.23 406.69 151.87C408.69 154.56 410.73 157.21 412.78 159.87C414.84 162.54 416.94 165.20 419.03 167.86C421.12 170.52 423.20 173.20 425.30 175.85C427.42 178.52 429.58 181.17 431.70 183.84C433.82 186.50 435.97 189.14 438.05 191.84C440.08 194.47 442.01 197.19 444.03 199.83C446.09 202.52 448.21 205.16 450.30 207.82C452.39 210.48 454.44 213.18 456.57 215.81C458.75 218.51 460.96 221.17 463.21 223.81C465.51 226.50 467.93 229.10 470.23 231.80C472.48 234.43 474.57 237.20 476.87 239.79C479.31 242.53 482.23 244.88 484.43 247.78C486.26 250.21 488.15 252.93 488.95 255.77C489.66 258.25 489.66 261.29 488.95 263.77C488.15 266.62 486.19 269.27 484.43 271.76C482.42 274.60 479.93 277.10 477.66 279.75C475.37 282.43 473.03 285.07 470.73 287.75C468.44 290.40 466.19 293.10 463.88 295.74C461.52 298.43 459.12 301.07 456.73 303.73C454.34 306.40 451.93 309.04 449.55 311.72C447.20 314.37 445.51 317.96 442.53 319.71C436.49 323.28 425.82 326.38 422.48 327.71" fill="none" stroke="#111" stroke-width="1.15"/>
<g fill="none" stroke="#111" stroke-width="1.05"><path d="M328.00 21.44L333.10 26.54M328.00 26.54L333.10 21.44"/><path d="M331.41 29.43L336.51 34.53M331.41 34.53L336.51 29.43"/><path d="M335.08 37.43L340.18 42.53M335.08 42.53L340.18 37.43"/><path d="M338.97 45.42L344.07 50.52M338.97 50.52L344.07 45.42"/><path d="M343.18 53.41L348.28 58.51M343.18 58.51L348.28 53.41"/><path d="M347.73 61.41L352.83 66.50M347.73 66.50L352.83 61.41"/><path d="M352.49 69.40L357.59 74.50M352.49 74.50L357.59 69.40"/><path d="M357.32 77.39L362.42 82.49M357.32 82.49L362.42 77.39"/><path d="M362.23 85.38L367.33 90.48M362.23 90.48L367.33 85.38"/><path d="M367.29 93.38L372.39 98.47M367.29 98.47L372.39 93.38"/><path d="M372.43 101.37L377.53 106.47M372.43 106.47L377.53 101.37"/><path d="M377.58 109.36L382.68 114.46M377.58 114.46L382.68 109.36"/><path d="M382.66 117.35L387.76 122.45M382.66 122.45L387.76 117.35"/><path d="M387.72 125.34L392.82 130.44M387.72 130.44L392.82 125.34"/><path d="M392.90 133.34L398.00 138.44M392.90 138.44L398.00 133.34"/><path d="M398.34 141.33L403.44 146.43M398.34 146.43L403.44 141.33"/><path d="M404.14 149.32L409.24 154.42M404.14 154.42L409.24 149.32"/><path d="M410.23 157.31L415.33 162.42M410.23 162.42L415.33 157.31"/><path d="M416.48 165.31L421.58 170.41M416.48 170.41L421.58 165.31"/><path d="M422.75 173.30L427.85 178.40M422.75 178.40L427.85 173.30"/><path d="M429.15 181.29L434.25 186.39M429.15 186.39L434.25 181.29"/><path d="M435.50 189.28L440.60 194.39M435.50 194.39L440.60 189.28"/><path d="M441.48 197.28L446.58 202.38M441.48 202.38L446.58 197.28"/><path d="M447.75 205.27L452.85 210.37M447.75 210.37L452.85 205.27"/><path d="M454.02 213.26L459.12 218.36M454.02 218.36L459.12 213.26"/><path d="M460.66 221.25L465.76 226.36M460.66 226.36L465.76 221.25"/><path d="M467.68 229.25L472.78 234.35M467.68 234.35L472.78 229.25"/><path d="M474.32 237.24L479.42 242.34M474.32 242.34L479.42 237.24"/><path d="M481.88 245.23L486.98 250.33M481.88 250.33L486.98 245.23"/><path d="M486.40 253.22L491.50 258.32M486.40 258.32L491.50 253.22"/><path d="M486.40 261.22L491.50 266.32M486.40 266.32L491.50 261.22"/><path d="M481.88 269.21L486.98 274.31M481.88 274.31L486.98 269.21"/><path d="M475.11 277.20L480.21 282.30M475.11 282.30L480.21 277.20"/><path d="M468.18 285.19L473.28 290.30M468.18 290.30L473.28 285.19"/><path d="M461.33 293.19L466.43 298.29M461.33 298.29L466.43 293.19"/><path d="M454.18 301.18L459.28 306.28M454.18 306.28L459.28 301.18"/><path d="M447.00 309.17L452.10 314.27M447.00 314.27L452.10 309.17"/><path d="M439.98 317.16L445.08 322.26M439.98 322.26L445.08 317.16"/><path d="M419.93 325.16L425.03 330.26M419.93 330.26L425.03 325.16"/></g>
<g font-size="9" text-anchor="end">
<text x="321.4" y="19.0">0</text>
<text x="321.4" y="50.9">0.1</text>
<text x="321.4" y="82.9">0.2</text>
<text x="321.4" y="114.9">0.3</text>
<text x="321.4" y="146.8">0.4</text>
<text x="321.4" y="178.8">0.5</text>
<text x="321.4" y="210.8">0.6</text>
<text x="321.4" y="242.8">0.7</text>
<text x="321.4" y="274.7">0.8</text>
<text x="321.4" y="306.7">0.9</text>
<text x="321.4" y="338.7">1</text>
</g>
<g font-size="9" text-anchor="middle">
<text x="327.4" y="350.7">0</text>
<text x="368.9" y="350.7">1000</text>
<text x="410.4" y="350.7">2000</text>
<text x="452.0" y="350.7">3000</text>
<text x="493.5" y="350.7">4000</text>
<text x="535.0" y="350.7">5000</text>
</g>
<text x="146.8" y="360.3" font-size="10" text-anchor="middle">Skin friction <tspan font-style="italic">f </tspan>(kPa)</text>
<text x="431" y="362.8" font-size="10" text-anchor="middle">Axial load (kPa)</text>
<text transform="translate(14.9 172) rotate(-90) scale(1.3 1)" font-size="10" font-style="italic" text-anchor="middle">z/L</text>
<text transform="translate(303.3 178.5) rotate(-90) scale(1.25 1)" font-size="10" font-style="italic" text-anchor="middle">z/L</text>
<rect x="151.9" y="41.4" width="84.9" height="85.5" fill="#fff" stroke="#111" stroke-width="1.2"/>
<path d="M158.6 52.3H178.6" stroke="#111" stroke-width="1.15"/>
<g fill="none" stroke="#111" stroke-width="1.05"><circle cx="168.60" cy="52.30" r="2.08"/></g>
<text x="182.3" y="55.9" font-size="11">p=50 kPa</text>
<path d="M158.6 68.4H178.6" stroke="#111" stroke-width="1.15"/>
<g fill="none" stroke="#111" stroke-width="1.05"><rect x="166.60" y="66.40" width="4.00" height="4.00"/></g>
<text x="182.3" y="72.0" font-size="11">p=100 kPa</text>
<path d="M158.6 84.6H178.6" stroke="#111" stroke-width="1.15"/>
<g fill="none" stroke="#111" stroke-width="1.05"><path d="M168.60 82.28L170.92 84.60L168.60 86.92L166.28 84.60Z"/></g>
<text x="182.3" y="88.2" font-size="11">p=200 kPa</text>
<path d="M158.6 100.9H178.6" stroke="#111" stroke-width="1.15"/>
<g fill="none" stroke="#111" stroke-width="1.05"><path d="M168.60 98.82L170.68 102.98L166.52 102.98Z"/></g>
<text x="182.3" y="104.5" font-size="11">p=300 kPa</text>
<path d="M158.6 117.2H178.6" stroke="#111" stroke-width="1.15"/>
<g fill="none" stroke="#111" stroke-width="1.05"><path d="M166.56 115.16L170.64 119.24M166.56 119.24L170.64 115.16"/></g>
<text x="182.3" y="120.8" font-size="11">p=400 kPa</text>
<rect x="436.0" y="43.6" width="85.6" height="85.3" fill="#fff" stroke="#111" stroke-width="1.2"/>
<path d="M443.0 54.4H462.4" stroke="#111" stroke-width="1.15"/>
<g fill="none" stroke="#111" stroke-width="1.05"><circle cx="452.70" cy="54.40" r="2.08"/></g>
<text x="466.4" y="58.0" font-size="11">p=50 kPa</text>
<path d="M443.0 70.9H462.4" stroke="#111" stroke-width="1.15"/>
<g fill="none" stroke="#111" stroke-width="1.05"><rect x="450.70" y="68.90" width="4.00" height="4.00"/></g>
<text x="466.4" y="74.5" font-size="11">p=100 kPa</text>
<path d="M443.0 87.3H462.4" stroke="#111" stroke-width="1.15"/>
<g fill="none" stroke="#111" stroke-width="1.05"><path d="M452.70 84.98L455.02 87.30L452.70 89.62L450.38 87.30Z"/></g>
<text x="466.4" y="90.9" font-size="11">p=200 kPa</text>
<path d="M443.0 103.7H462.4" stroke="#111" stroke-width="1.15"/>
<g fill="none" stroke="#111" stroke-width="1.05"><path d="M452.70 101.62L454.78 105.78L450.62 105.78Z"/></g>
<text x="466.4" y="107.3" font-size="11">p=300 kPa</text>
<path d="M443.0 120.1H462.4" stroke="#111" stroke-width="1.15"/>
<g fill="none" stroke="#111" stroke-width="1.05"><path d="M450.66 118.06L454.74 122.14M450.66 122.14L454.74 118.06"/></g>
<text x="466.4" y="123.7" font-size="11">p=400 kPa</text>
</g>
<g font-family="'Liberation Sans', Arial, sans-serif" fill="#111" font-size="18.5">
<text x="44.7" y="325.8">(a)</text>
<text x="329.7" y="325.7">(b)</text>
</g>
</svg>
</body></html>
